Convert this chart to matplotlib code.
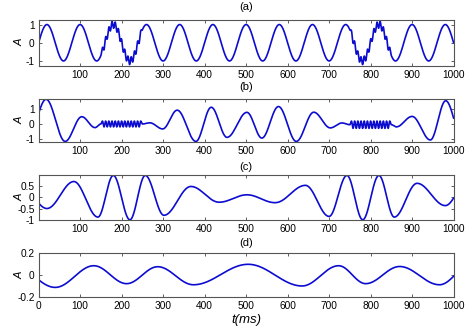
import numpy as np
import matplotlib.pyplot as plt

plt.rcParams['font.family'] = ['Liberation Sans', 'DejaVu Sans']
plt.rcParams['axes.unicode_minus'] = False

# extrema: time (ms) and amplitude
a_ext_t = [-20, 20, 60, 100, 140, 180, 220, 260, 300, 340, 380, 420, 460, 500,
           540, 580, 620, 660, 700, 740, 780, 820, 860, 900, 940, 980, 1020]
a_ext_v = [-1, 1, -1, 1, -1, 1, -1, 1, -1, 1, -1, 1, -1, 1,
           -1, 1, -1, 1, -1, 1, -1, 1, -1, 1, -1, 1, -1]

b_ext_t = [-22, 18, 64, 104, 136, 150, 250, 268, 299, 334, 379, 416, 454, 502,
           538, 578, 621, 663, 703, 731, 750, 850, 862, 900, 944, 981, 1022]
b_ext_v = [-0.6, 1.7, -1.2, 0.5, -0.25, 0.0, 0.0, 0.08, -0.34, 0.95, -1.2, 1.15, -0.92, 0.8,
           -0.97, 1.2, -1.2, 0.81, -0.27, 0.07, -0.05, -0.05, -0.2, 0.52, -1.1, 1.6, -1.1]

c_ext_t = [-30, 20, 85, 143, 180, 220, 257, 302, 367, 435, 502,
           570, 643, 700, 743, 781, 820, 857, 912, 980, 1030]
c_ext_v = [0.2, -0.5, 0.7, -0.88, 0.97, -1.0, 0.97, -0.8, 0.48, -0.22, 0.11,
           -0.24, 0.53, -0.85, 0.97, -1.0, 0.97, -0.88, 0.62, -0.37, 0.6]

d_ext_t = [-60, 40, 133, 212, 287, 373, 505, 635, 723, 788, 870, 966, 1040]
d_ext_v = [0.09, -0.11, 0.087, -0.076, 0.078, -0.086, 0.1, -0.097, 0.087, -0.076, 0.08, -0.086, 0.09]

# high frequency bursts
burst_windows = [(150, 250), (750, 850)]
burst_cycles = [13, 13]
burst_amp_a = [0.2, 0.2]
burst_amp_b = [0.2, 0.25]

titles = ['(a)', '(b)', '(c)', '(d)']
ylims = [(-1.25, 1.25), (-1.22, 1.72), (-1.01, 0.99), (-0.2, 0.2)]
yticks = [[-1, 0, 1], [-1, 0, 1], [-1, -0.5, 0, 0.5], [-0.2, 0, 0.2]]
xticks_top = [100, 200, 300, 400, 500, 600, 700, 800, 900, 1000]
xticks_last = [0, 100, 200, 300, 400, 500, 600, 700, 800, 900, 1000]


def through(te, ve, t):
    te = np.asarray(te, float)
    ve = np.asarray(ve, float)
    i = np.clip(np.searchsorted(te, t, side='right') - 1, 0, len(te) - 2)
    u = (t - te[i]) / (te[i + 1] - te[i])
    return ve[i] + (ve[i + 1] - ve[i]) * (1 - np.cos(np.pi * u)) / 2


def burst(amps, t):
    out = np.zeros_like(t)
    for (t0, t1), n, amp in zip(burst_windows, burst_cycles, amps):
        kt = np.linspace(t0, t1, 2 * n + 1)
        kv = np.r_[0, amp * (-1.0) ** np.arange(2 * n - 1), 0]
        m = (t >= t0) & (t <= t1)
        out[m] = through(kt, kv, t[m])
    return out


t = np.linspace(0, 1000, 4001)
signals = [
    through(a_ext_t, a_ext_v, t) + burst(burst_amp_a, t),
    through(b_ext_t, b_ext_v, t) + burst(burst_amp_b, t),
    through(c_ext_t, c_ext_v, t),
    through(d_ext_t, d_ext_v, t),
]

W, H = 474, 329
fig = plt.figure(figsize=(W / 100, H / 100), dpi=100)

# axes boxes in pixels: top, bottom
boxes = [(20, 65.5), (99, 141.7), (175, 220), (253.3, 297.3)]
left, right = 38.6, 453.6
title_y = [7, 87, 167, 243]

for k, y in enumerate(signals):
    top, bot = boxes[k]
    ax = fig.add_axes([left / W, 1 - bot / H, (right - left) / W, (bot - top) / H])
    ax.plot(t, y, color='#0c0cd0', lw=1.2)
    ax.set_xlim(0, 1000)
    ax.set_ylim(*ylims[k])
    ax.set_yticks(yticks[k])
    ax.set_yticklabels([f'{v:g}' for v in yticks[k]])
    ax.set_xticks(xticks_last if k == 3 else xticks_top)
    ax.tick_params(direction='in', top=True, right=True, length=2.5, width=0.6,
                   labelsize=7.3, pad=3, color='#444444', labelcolor='black')
    for s in ax.spines.values():
        s.set_color('#555555')
        s.set_linewidth(0.8)
    fig.text((left + right) / 2 / W, 1 - title_y[k] / H, titles[k],
             ha='center', va='center', fontsize=8)
    fig.text(20 / W, 1 - (top + bot) / 2 / H, 'A', rotation=90, style='italic',
             ha='center', va='center', fontsize=8)

fig.text(246 / W, 1 - 320 / H, 't(ms)', style='italic', ha='center', va='center', fontsize=9.5)

fig.savefig('out.png', dpi=100)
